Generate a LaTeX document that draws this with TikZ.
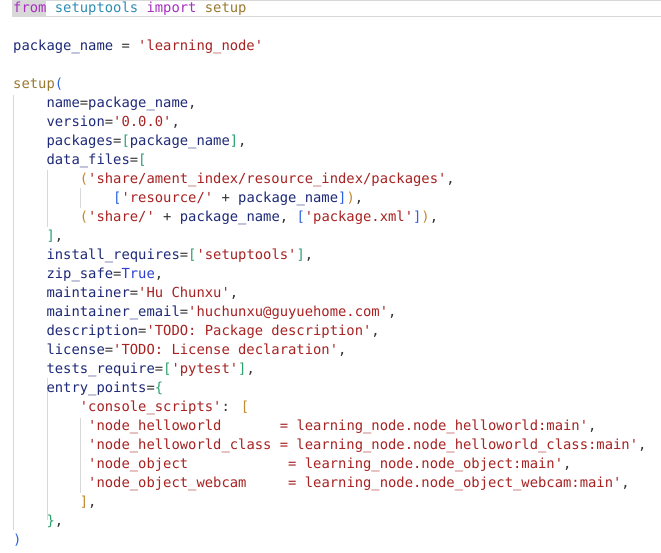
\documentclass[tikz,border=0pt]{standalone}
\usepackage{fontspec}
\newfontfamily\code{DejaVu Sans Mono}
\definecolor{kw}{HTML}{A62FC0}
\definecolor{md}{HTML}{2F8DB5}
\definecolor{fn}{HTML}{9A7A30}
\definecolor{id}{HTML}{1E2A78}
\definecolor{st}{HTML}{A82222}
\definecolor{tr}{HTML}{2B3FD0}
\definecolor{bb}{HTML}{2A62E0}
\definecolor{bg}{HTML}{2AA070}
\definecolor{bo}{HTML}{C08A30}
\definecolor{op}{HTML}{333333}
\definecolor{guide}{HTML}{D8D8D8}
\newcommand\q{\char"0027\relax}
\newcommand\I[1]{\textcolor{id}{#1}}
\newcommand\Sx[1]{\textcolor{st}{\q#1\q}}
\newcommand\B[2]{\textcolor{b#1}{#2}}
\newcommand\Ox[1]{\textcolor{op}{#1}}
\newcommand\spc[1]{\hspace*{#1\dimexpr 8.333pt\relax}}
\tikzset{ln/.style={anchor=base west,inner sep=0pt,font=\code\fontsize{13.84}{19}\selectfont}}
\begin{document}
\begin{tikzpicture}[x=1pt,y=-1pt]
\useasboundingbox[fill=white] (0,0) rectangle (661,552);
\draw[guide,line width=1.2pt] (12,0.6) -- (661,0.6);
\draw[guide,line width=1.2pt] (12,16.6) -- (661,16.6);
\fill[guide] (12,0) rectangle (45.5,16);
\foreach \x/\a/\b in {13/95/530, 47/170/227, 80/188/208, 47/378/520, 80/418/493}
  \draw[guide,line width=0.9pt] (\x,\a) -- (\x,\b);
\def\L#1#2#3{\node[ln] at ({13+#2*8.333},{12.5+19*#1}) {#3};}
\L{0}{0}{\textcolor{kw}{from} \textcolor{md}{setuptools} \textcolor{kw}{import} \textcolor{fn}{setup}}
\L{2}{0}{\I{package\_name} \Ox{=} \Sx{learning\_node}}
\L{4}{0}{\textcolor{fn}{setup}\B{b}{(}}
\L{5}{4}{\I{name}\Ox{=}\I{package\_name}\Ox{,}}
\L{6}{4}{\I{version}\Ox{=}\Sx{0.0.0}\Ox{,}}
\L{7}{4}{\I{packages}\Ox{=}\B{g}{[}\I{package\_name}\B{g}{]}\Ox{,}}
\L{8}{4}{\I{data\_files}\Ox{=}\B{g}{[}}
\L{9}{8}{\B{o}{(}\Sx{share/ament\_index/resource\_index/packages}\Ox{,}}
\L{10}{12}{\B{b}{[}\Sx{resource/} \Ox{+} \I{package\_name}\B{b}{]}\B{o}{)}\Ox{,}}
\L{11}{8}{\B{o}{(}\Sx{share/} \Ox{+} \I{package\_name}\Ox{,} \B{b}{[}\Sx{package.xml}\B{b}{]}\B{o}{)}\Ox{,}}
\L{12}{4}{\B{g}{]}\Ox{,}}
\L{13}{4}{\I{install\_requires}\Ox{=}\B{g}{[}\Sx{setuptools}\B{g}{]}\Ox{,}}
\L{14}{4}{\I{zip\_safe}\Ox{=}\textcolor{tr}{True}\Ox{,}}
\L{15}{4}{\I{maintainer}\Ox{=}\Sx{Hu Chunxu}\Ox{,}}
\L{16}{4}{\I{maintainer\_email}\Ox{=}\Sx{huchunxu@guyuehome.com}\Ox{,}}
\L{17}{4}{\I{description}\Ox{=}\Sx{TODO: Package description}\Ox{,}}
\L{18}{4}{\I{license}\Ox{=}\Sx{TODO: License declaration}\Ox{,}}
\L{19}{4}{\I{tests\_require}\Ox{=}\B{g}{[}\Sx{pytest}\B{g}{]}\Ox{,}}
\L{20}{4}{\I{entry\_points}\Ox{=}\B{g}{\{}}
\L{21}{8}{\Sx{console\_scripts}\Ox{:} \B{o}{[}}
\L{22}{9}{\Sx{node\_helloworld\spc{7}= learning\_node.node\_helloworld:main}\Ox{,}}
\L{23}{9}{\Sx{node\_helloworld\_class = learning\_node.node\_helloworld\_class:main}\Ox{,}}
\L{24}{9}{\Sx{node\_object\spc{12}= learning\_node.node\_object:main}\Ox{,}}
\L{25}{9}{\Sx{node\_object\_webcam\spc{5}= learning\_node.node\_object\_webcam:main}\Ox{,}}
\L{26}{8}{\B{o}{]}\Ox{,}}
\L{27}{4}{\B{g}{\}}\Ox{,}}
\L{28}{0}{\B{b}{)}}
\end{tikzpicture}
\end{document}
